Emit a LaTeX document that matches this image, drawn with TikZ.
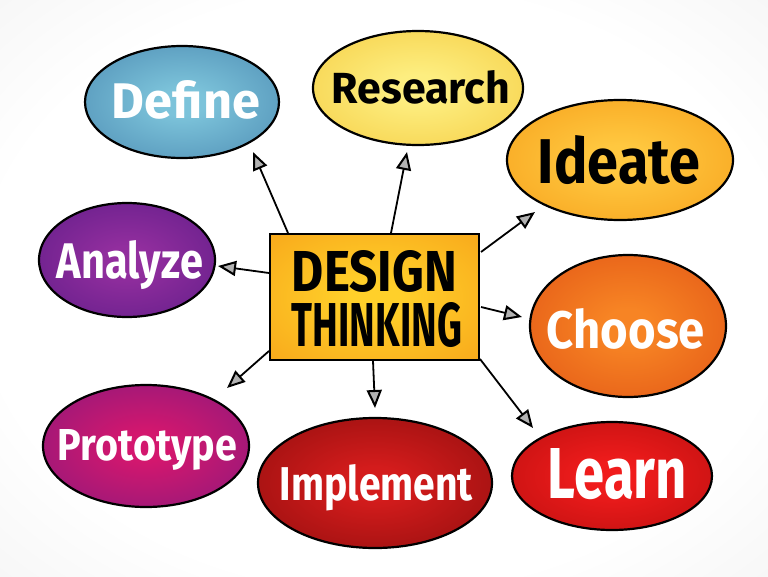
\documentclass[tikz,border=0pt]{standalone}
\usepackage{fontspec}
\setmainfont{Fira Sans}
\usetikzlibrary{arrows.meta,shapes.geometric,calc}
\definecolor{ci}{HTML}{FFFFFF}
\definecolor{co}{HTML}{000000}
\pgfdeclareradialshading[ci,co]{ellsh}{\pgfpoint{0bp}{0bp}}{color(0bp)=(ci); color(6bp)=(ci); color(50bp)=(co)}
\pgfdeclareradialshading{bgsh}{\pgfpoint{0bp}{0bp}}{color(0bp)=(white); color(26bp)=(white); color(50bp)=(black!8); color(72bp)=(black!14)}
\definecolor{defI}{HTML}{7CC3DA}\definecolor{defO}{HTML}{3A75A3}
\definecolor{resI}{HTML}{FDEE80}\definecolor{resO}{HTML}{F2C02C}
\definecolor{ideI}{HTML}{FFC840}\definecolor{ideO}{HTML}{F3900C}
\definecolor{anaI}{HTML}{922E9E}\definecolor{anaO}{HTML}{4C1680}
\definecolor{proI}{HTML}{D3176E}\definecolor{proO}{HTML}{6C1A82}
\definecolor{choI}{HTML}{F78424}\definecolor{choO}{HTML}{D9420F}
\definecolor{impI}{HTML}{D41C1C}\definecolor{impO}{HTML}{750808}
\definecolor{leaI}{HTML}{F01C1C}\definecolor{leaO}{HTML}{A60A0A}
\definecolor{dtI}{HTML}{FFD02A}\definecolor{dtO}{HTML}{F59714}
\begin{document}
\begin{tikzpicture}[x=1pt,y=-1pt,
  shc/.code 2 args={\colorlet{ci}{#1}\colorlet{co}{#2}},
  bubble/.style={ellipse, draw=black, line width=2.2pt, inner sep=0pt, shade, shading=ellsh},
  lbl/.style={anchor=base, inner sep=0pt, font=\bfseries},
  arr/.style={line width=1.8pt, -{Triangle[length=18pt,width=15pt,fill=black!30,line width=2pt]}}
]
\shade[shading=bgsh] (0,0) rectangle (768,576);
\useasboundingbox (0,0) rectangle (768,576);

% central box
\node[draw=black, line width=2pt, shade, shading=ellsh, shc={dtI}{dtO}, minimum width=209pt, minimum height=126pt, inner sep=0pt] (dt) at (374.5,297) {};
\node[lbl] (tdesign) at (374.5,291) {\resizebox{165pt}{41pt}{DESIGN}};
\node[lbl] (tthinking) at (377,346) {\resizebox{170pt}{44pt}{THINKING}};

% bubbles
\node[bubble, shc={defI}{defO}, minimum width=194pt, minimum height=112pt] (def) at (182,102) {};
\node[bubble, shc={resI}{resO}, minimum width=210pt, minimum height=114pt] (res) at (418,88) {};
\node[bubble, shc={ideI}{ideO}, minimum width=226pt, minimum height=120pt] (ide) at (620,160) {};
\node[bubble, shc={anaI}{anaO}, minimum width=176pt, minimum height=114pt] (ana) at (127,260) {};
\node[bubble, shc={proI}{proO}, minimum width=206pt, minimum height=122pt] (pro) at (146,446) {};
\node[bubble, shc={choI}{choO}, minimum width=196pt, minimum height=142pt] (cho) at (628,326) {};
\node[bubble, shc={impI}{impO}, minimum width=234pt, minimum height=130pt] (imp) at (375,483) {};
\node[bubble, shc={leaI}{leaO}, minimum width=200pt, minimum height=108pt] (lea) at (612,476) {};

% labels
\node[lbl, text=white] (tdef) at (186,118) {\resizebox{148pt}{38pt}{Define}};
\node[lbl, text=black] (tres) at (421,103) {\resizebox{178pt}{33pt}{Research}};
\node[lbl, text=black] (tide) at (619,183) {\resizebox{162pt}{48pt}{Ideate}};
\node[lbl, text=white] (tana) at (130,278) {\resizebox{146pt}{38pt}{Analyze}};
\node[lbl, text=white] (tpro) at (147.5,460) {\resizebox{179pt}{31pt}{Prototype}};
\node[lbl, text=white] (tcho) at (626,348) {\resizebox{158pt}{40pt}{Choose}};
\node[lbl, text=white] (timp) at (376.5,500) {\resizebox{193pt}{36pt}{Implement}};
\node[lbl, text=white] (tlea) at (617.5,498) {\resizebox{139pt}{50pt}{Learn}};

% arrow tips
\coordinate (aDef) at (253,152);
\coordinate (aRes) at (407,152);
\coordinate (aIde) at (535,212);
\coordinate (aAna) at (218,266);
\coordinate (aCho) at (522,317);
\coordinate (aPro) at (227,388);
\coordinate (aImp) at (375,408);
\coordinate (aLea) at (533,428);

\draw[arr] ($(dt.north west)+(19,0)$) -- (aDef);
\draw[arr] ($(dt.north west)+(122,0)$) -- (aRes);
\draw[arr] ($(dt.north east)+(1,19)$) -- (aIde);
\draw[arr] ($(dt.west)+(0,-24)$) -- (aAna);
\draw[arr] ($(dt.east)+(1,10)$) -- (aCho);
\draw[arr] ($(dt.south west)+(0,-10)$) -- (aPro);
\draw[arr] ($(dt.south west)+(104,0)$) -- (aImp);
\draw[arr] ($(dt.south east)+(0,-2)$) -- (aLea);
\end{tikzpicture}
\end{document}
